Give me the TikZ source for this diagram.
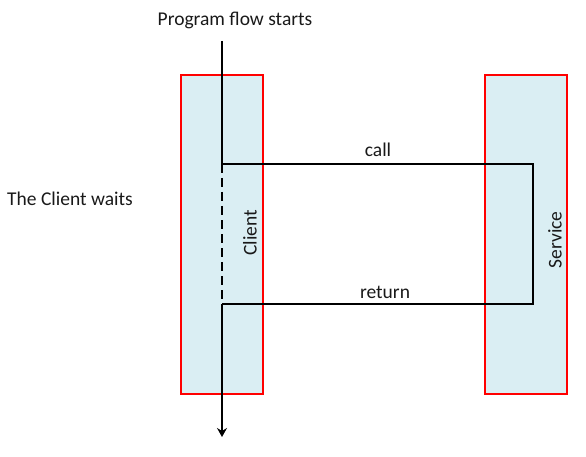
\documentclass[tikz,border=0pt]{standalone}
\usepackage{fontspec}
\setmainfont{Carlito}
\usetikzlibrary{arrows.meta}
\definecolor{boxfill}{HTML}{DAEEF3}
\tikzset{
  lane/.style={draw=red, line width=2pt, fill=boxfill, minimum width=82pt, minimum height=318pt, inner sep=0pt},
  flow/.style={draw=black, line width=2pt},
  lbl/.style={font=\fontsize{19.5}{23}\selectfont, text=black!90, inner sep=0pt}
}
\begin{document}
\begin{tikzpicture}[x=1pt,y=-1pt]
\useasboundingbox (0,0) rectangle (586,457);
\node[lane] (client) at (221.5,234.5) {};
\node[lane] (service) at (526,234.5) {};
\node[lbl, rotate=90] (clientlbl) at (250,233) {Client};
\node[lbl, rotate=90] (servicelbl) at (555,240) {Service};
\node[lbl] (start) at (235,20) {Program flow starts};
\node[lbl] (waits) at (70,199) {The Client waits};
\coordinate (top) at (222,41);
\coordinate (c1) at (222,164);
\coordinate (c2) at (533,164);
\coordinate (r2) at (533,304);
\coordinate (r1) at (222,304);
\coordinate (bottom) at (222,437);
\draw[flow] (top) -- (c1);
\draw[flow, dash pattern=on 9pt off 5pt] (c1) -- (r1);
\draw[flow] (c1) -- (c2) -- (r2) -- (r1);
\draw[flow, -{Stealth[length=9pt,width=10pt,inset=3pt]}] (r1) -- (bottom);
\node[lbl] (call) at (378,150) {call};
\node[lbl] (ret) at (385,292) {return};
\end{tikzpicture}
\end{document}
